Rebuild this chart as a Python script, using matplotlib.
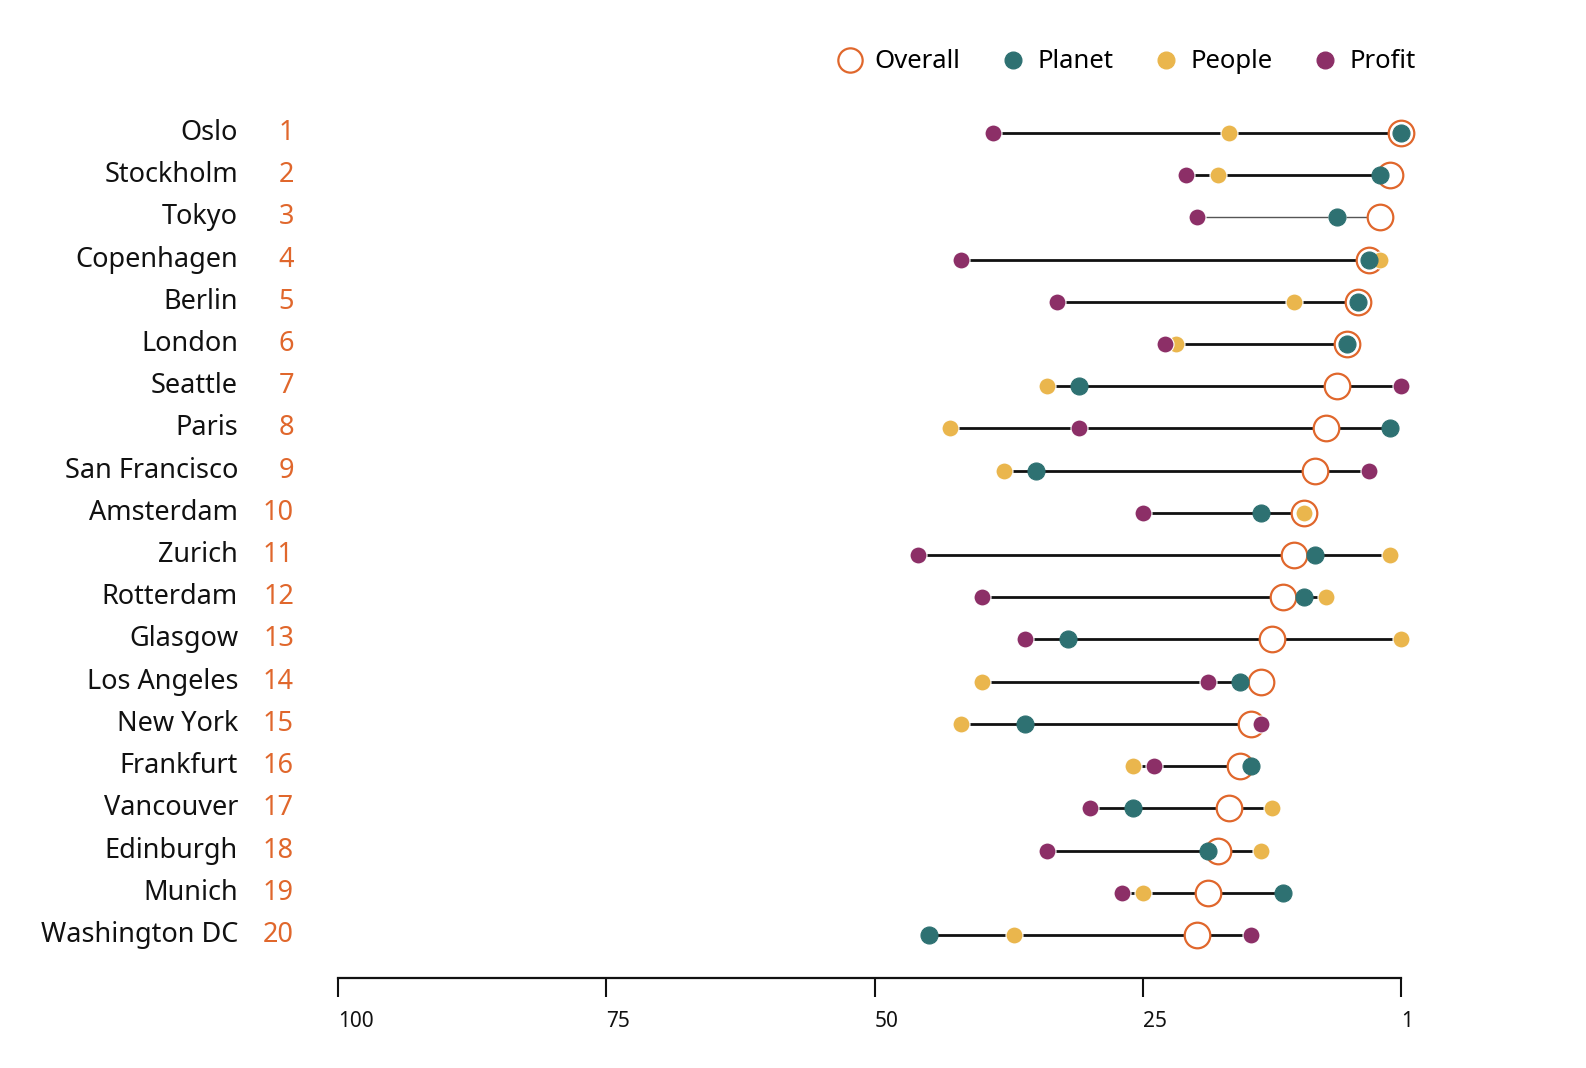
import matplotlib
matplotlib.use("Agg")
import matplotlib.pyplot as plt
import matplotlib.transforms as mtransforms
from matplotlib.lines import Line2D

plt.rcParams['font.family'] = ['Noto Sans', 'DejaVu Sans']

cities = ["Oslo", "Stockholm", "Tokyo", "Copenhagen", "Berlin", "London", "Seattle",
          "Paris", "San Francisco", "Amsterdam", "Zurich", "Rotterdam", "Glasgow",
          "Los Angeles", "New York", "Frankfurt", "Vancouver", "Edinburgh", "Munich",
          "Washington DC"]
overall = [1, 2, 3, 4, 5, 6, 7, 8, 9, 10, 11, 12, 13, 14, 15, 16, 17, 18, 19, 20]
planet = [1, 3, 7, 4, 5, 6, 31, 2, 35, 14, 9, 10, 32, 16, 36, 15, 26, 19, 12, 45]
people = [17, 18, 7, 3, 11, 22, 34, 43, 38, 10, 2, 8, 1, 40, 42, 26, 13, 14, 25, 37]
profit = [39, 21, 20, 42, 33, 23, 1, 31, 4, 25, 46, 40, 36, 19, 14, 24, 30, 34, 27, 15]
xticks = [100, 75, 50, 25, 1]
xticklabels = ["100", "75", "50", "25", "1"]

C_OVERALL = "#E0672C"
C_PLANET = "#2E7172"
C_PEOPLE = "#EAB64D"
C_PROFIT = "#8C2F67"

W, H = 1586, 1068
fig = plt.figure(figsize=(W / 100, H / 100), dpi=100)
ax = fig.add_axes([338 / W, (H - 978) / H, (1401 - 338) / W, (978 - 100) / H])

rows = list(range(1, len(cities) + 1))
ax.set_xlim(100, 1)
ax.set_ylim(21.02, 0.22)

for r, c, o, pl, pe, pr in zip(rows, cities, overall, planet, people, profit):
    vals = [o, pl, pe, pr]
    if c == "Tokyo":
        ax.hlines(r, min(vals), max(vals), color="#555555", lw=1.0, zorder=1)
    else:
        ax.hlines(r, min(vals), max(vals), color="#111111", lw=2.0, zorder=1)

ax.scatter(overall, rows, s=340, facecolor="white", edgecolor=C_OVERALL, linewidth=1.6,
           zorder=3, clip_on=False)
ax.scatter(people, rows, s=150, color=C_PEOPLE, edgecolor="white", linewidth=0.8,
           zorder=4, clip_on=False)
ax.scatter(planet, rows, s=150, color=C_PLANET, edgecolor=C_PLANET, linewidth=0.8,
           zorder=5, clip_on=False)
ax.scatter(profit, rows, s=150, color=C_PROFIT, edgecolor="white", linewidth=0.8,
           zorder=6, clip_on=False)

# labels
trans = mtransforms.blended_transform_factory(fig.transFigure, ax.transData)
off = mtransforms.offset_copy(trans, fig=fig, x=0, y=-7, units='dots')
for r, c, o in zip(rows, cities, overall):
    ax.text(238 / W, r, c, transform=off, ha="right", va="baseline",
            fontsize=19.5, color="#111111")
    ax.text(294 / W, r, str(o), transform=off, ha="right", va="baseline",
            fontsize=19.5, color=C_OVERALL)

# axis styling
for s in ["top", "left", "right"]:
    ax.spines[s].set_visible(False)
ax.spines["bottom"].set_linewidth(1.6)
ax.spines["bottom"].set_color("#111111")
ax.set_yticks([])
ax.set_xticks(xticks)
ax.set_xticklabels(xticklabels, ha="left")
ax.tick_params(axis="x", direction="out", length=14, width=1.5, color="#111111",
               labelsize=15, labelcolor="#111111", pad=10)

# legend
handles = [
    Line2D([], [], ls="none", marker="o", markersize=17.5, markerfacecolor="white",
           markeredgecolor=C_OVERALL, markeredgewidth=1.6),
    Line2D([], [], ls="none", marker="o", markersize=12, color=C_PLANET),
    Line2D([], [], ls="none", marker="o", markersize=12, color=C_PEOPLE),
    Line2D([], [], ls="none", marker="o", markersize=12, color=C_PROFIT),
]
leg = fig.legend(handles, ["Overall", "Planet", "People", "Profit"], ncol=4,
                 loc="center right", bbox_to_anchor=(1416 / W, 1 - 62 / H),
                 frameon=False, fontsize=18.5, handletextpad=0.35, columnspacing=1.45,
                 handlelength=1.2, borderpad=0, borderaxespad=0)

fig.savefig("out.png", dpi=100)
